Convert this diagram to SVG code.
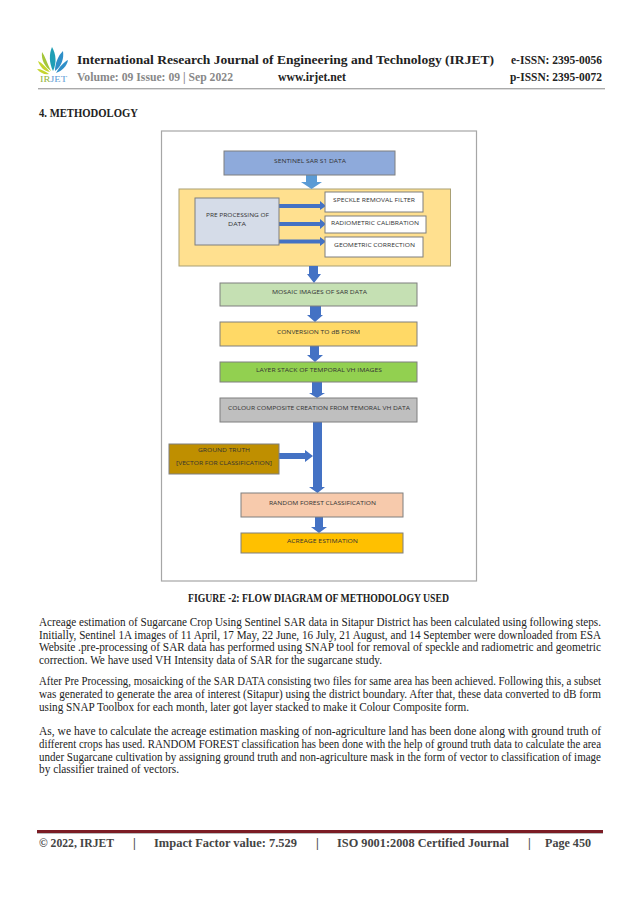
<svg xmlns="http://www.w3.org/2000/svg" width="638" height="902" viewBox="0 0 638 902">
<style>
.b{font-family:"Liberation Serif",serif;font-size:11.5px;fill:#222}
.h{font-family:"Liberation Serif",serif;font-weight:bold;fill:#222}
.f{font-family:"Liberation Serif",serif;font-weight:bold;font-size:12.5px;fill:#444}
.n{stroke:#7f7f7f;stroke-width:1}
.t{font-family:"Open Sans",sans-serif;font-size:6px;fill:#333}
.a{fill:#4472c4}
</style>
<rect width="638" height="902" fill="#fff"/>
<g id="header">
<g id="logo">
<path d="M53 71C49 63 49 54 52 47C56 54 57 63 53 71Z" fill="#1f9fb5"/>
<path d="M55 71C55 63 58 56 63 51C64 58 62 66 55 71Z" fill="#2f8fc8"/>
<path d="M56 73C60 66 64 62 68 60C67 66 62 71 56 73Z" fill="#2f8fc8"/>
<path d="M51 71C47 63 45 56 42 52C41 60 45 67 51 71Z" fill="#a4c639"/>
<path d="M50 72C46 67 42 63 38 61C40 67 44 71 50 72Z" fill="#c5d52e"/>
<path d="M49 74C45 71 41 69 37 69C40 73 45 75 49 74Z" fill="#c5d52e"/>
<text x="40" y="82" font-family="Liberation Serif,serif" font-size="9" fill="#5b9bd5" textLength="27" lengthAdjust="spacingAndGlyphs"><tspan fill="#8fb339">IR</tspan>JET</text>
</g>
<text class="h" x="77" y="64" font-size="13.500" textLength="417" lengthAdjust="spacingAndGlyphs">International Research Journal of Engineering and Technology (IRJET)</text>
<text class="h" x="511" y="64" font-size="11.500" textLength="91" lengthAdjust="spacingAndGlyphs">e-ISSN: 2395-0056</text>
<text class="h" x="77" y="81" font-size="11.500" style="fill:#888" textLength="156" lengthAdjust="spacingAndGlyphs">Volume: 09 Issue: 09 | Sep 2022</text>
<text class="h" x="278" y="81" font-size="11.500" textLength="68" lengthAdjust="spacingAndGlyphs">www.irjet.net</text>
<text class="h" x="510" y="81" font-size="11.500" textLength="92" lengthAdjust="spacingAndGlyphs">p-ISSN: 2395-0072</text>
<rect x="38" y="88" width="567" height="1.4" fill="#aaa"/>
<text class="h" x="39" y="117" font-size="11.500" textLength="99" lengthAdjust="spacingAndGlyphs">4. METHODOLOGY</text>
</g>
<rect id="frame" x="161.5" y="131" width="315" height="450" fill="#fff" stroke="#a6a6a6" stroke-width="1.2"/>
<rect id="preprocess-panel" class="n" x="179" y="189" width="271.500" height="77" fill="#ffe08f" style="stroke:#a9a074"/>
<g id="connectors">
<path style="fill:#5b9bd5" d="M306 175H317V182H322L311.500 189L301 182H306Z"/>
<path class="a" d="M279 204H320V201L326 206L320 210V208H279Z"/>
<path class="a" d="M279 222H320V219L326 224L320 229V226H279Z"/>
<path class="a" d="M279 239.500H320V237L326 241.500L320 246V243.500H279Z"/>
<path class="a" d="M309 266H318V274H321L314 283L307 274H309Z"/>
<path class="a" d="M310 306H321V315H323L315 322L307 315H310Z"/>
<path class="a" d="M310 346H319V355H323L315 362L307 355H310Z"/>
<path class="a" d="M312 382H322V393H325L317 398L309 393H312Z"/>
<path class="a" d="M313 422H322V487H325L317.500 493L309 487H313Z"/>
<path class="a" d="M279 453H305V450L313 456L305 462V459H279Z"/>
<path class="a" d="M315 517H323V527H327L319 533L311 527H315Z"/>
</g>
<g id="sentinel"><rect class="n" x="224" y="151" width="171" height="24" fill="#8eaadb"/><text class="t" x="274" y="163.200" textLength="72" lengthAdjust="spacingAndGlyphs">SENTINEL SAR S1 DATA</text></g>
<g id="preprocess"><rect class="n" x="195" y="198" width="84" height="47" fill="#d5dce8"/><text class="t" x="206" y="217.200" textLength="63" lengthAdjust="spacingAndGlyphs">PRE PROCESSING OF</text><text class="t" x="228" y="226" textLength="18" lengthAdjust="spacingAndGlyphs">DATA</text></g>
<g id="speckle"><rect class="n" x="325" y="192" width="98" height="20" fill="#fff"/><text class="t" x="333" y="202" textLength="82" lengthAdjust="spacingAndGlyphs">SPECKLE REMOVAL FILTER</text></g>
<g id="radiometric"><rect class="n" x="325" y="216" width="101" height="17" fill="#fff"/><text class="t" x="331" y="224.500" textLength="88" lengthAdjust="spacingAndGlyphs">RADIOMETRIC CALIBRATION</text></g>
<g id="geometric"><rect class="n" x="325" y="237" width="98" height="20" fill="#fff"/><text class="t" x="334" y="247.200" textLength="81" lengthAdjust="spacingAndGlyphs">GEOMETRIC CORRECTION</text></g>
<g id="mosaic"><rect class="n" x="220" y="283" width="197" height="23" fill="#c5e0b3"/><text class="t" x="272" y="294" textLength="95" lengthAdjust="spacingAndGlyphs">MOSAIC IMAGES OF SAR DATA</text></g>
<g id="conversion"><rect class="n" x="220" y="322" width="197" height="24" fill="#ffd966"/><text class="t" x="277" y="334" textLength="83" lengthAdjust="spacingAndGlyphs">CONVERSION TO dB FORM</text></g>
<g id="layer"><rect class="n" x="220" y="362" width="197" height="20" fill="#92d050"/><text class="t" x="256" y="372.200" textLength="126" lengthAdjust="spacingAndGlyphs">LAYER STACK OF TEMPORAL VH IMAGES</text></g>
<g id="colour"><rect class="n" x="220" y="398" width="197" height="24" fill="#bfbfbf"/><text class="t" x="228" y="410.200" textLength="182" lengthAdjust="spacingAndGlyphs">COLOUR COMPOSITE CREATION FROM TEMORAL VH DATA</text></g>
<g id="ground"><rect class="n" x="169" y="444" width="110" height="30" fill="#bf8f00"/><text class="t" x="198" y="452.200" textLength="52" lengthAdjust="spacingAndGlyphs">GROUND TRUTH</text><text class="t" x="176" y="464.700" textLength="96" lengthAdjust="spacingAndGlyphs">[VECTOR FOR CLASSIFICATION]</text></g>
<g id="forest"><rect class="n" x="241" y="493" width="162" height="24" fill="#f7caac"/><text class="t" x="269" y="504.700" textLength="107" lengthAdjust="spacingAndGlyphs">RANDOM FOREST CLASSIFICATION</text></g>
<g id="acreage"><rect class="n" x="241" y="533" width="162" height="20" fill="#ffc000"/><text class="t" x="287" y="542.700" textLength="71" lengthAdjust="spacingAndGlyphs">ACREAGE ESTIMATION</text></g>
<g id="body">
<text class="h" x="188" y="602" font-size="11.500" textLength="261" lengthAdjust="spacingAndGlyphs">FIGURE -2: FLOW DIAGRAM OF METHODOLOGY USED</text>
<text class="b" x="39" y="626" textLength="562" lengthAdjust="spacingAndGlyphs">Acreage estimation of Sugarcane Crop Using Sentinel SAR data in Sitapur District has been calculated using following steps.</text>
<text class="b" x="39" y="639" textLength="562" lengthAdjust="spacingAndGlyphs">Initially, Sentinel 1A images of 11 April, 17 May, 22 June, 16 July, 21 August, and 14 September were downloaded from ESA</text>
<text class="b" x="39" y="651" textLength="562" lengthAdjust="spacingAndGlyphs">Website .pre-processing of SAR data has performed using SNAP tool for removal of speckle and radiometric and geometric</text>
<text class="b" x="39" y="664" textLength="343" lengthAdjust="spacingAndGlyphs">correction. We have used VH Intensity data of SAR for the sugarcane study.</text>
<text class="b" x="39" y="685" textLength="562" lengthAdjust="spacingAndGlyphs">After Pre Processing, mosaicking of the SAR DATA consisting two files for same area has been achieved. Following this, a subset</text>
<text class="b" x="39" y="698" textLength="562" lengthAdjust="spacingAndGlyphs">was generated to generate the area of interest (Sitapur) using the district boundary. After that, these data converted to dB form</text>
<text class="b" x="39" y="711" textLength="430" lengthAdjust="spacingAndGlyphs">using SNAP Toolbox for each month, later got layer stacked to make it Colour Composite form.</text>
<text class="b" x="39" y="735" textLength="562" lengthAdjust="spacingAndGlyphs">As, we have to calculate the acreage estimation masking of non-agriculture land has been done along with ground truth of</text>
<text class="b" x="39" y="748" textLength="562" lengthAdjust="spacingAndGlyphs">different crops has used. RANDOM FOREST classification has been done with the help of ground truth data to calculate the area</text>
<text class="b" x="39" y="761" textLength="562" lengthAdjust="spacingAndGlyphs">under Sugarcane cultivation by assigning ground truth and non-agriculture mask in the form of vector to classification of image</text>
<text class="b" x="39" y="773" textLength="140" lengthAdjust="spacingAndGlyphs">by classifier trained of vectors.</text>
</g>
<g id="footer">
<rect x="37" y="830" width="566" height="3" fill="#7b1c24"/>
<rect x="37" y="833" width="566" height="1" fill="#bbb"/>
<text class="f" x="39" y="847" textLength="75" lengthAdjust="spacingAndGlyphs">© 2022, IRJET</text>
<text class="f" x="133" y="847">|</text>
<text class="f" x="154" y="847" textLength="143" lengthAdjust="spacingAndGlyphs">Impact Factor value: 7.529</text>
<text class="f" x="316" y="847">|</text>
<text class="f" x="337" y="847" textLength="172" lengthAdjust="spacingAndGlyphs">ISO 9001:2008 Certified Journal</text>
<text class="f" x="528" y="847">|</text>
<text class="f" x="545" y="847" textLength="46" lengthAdjust="spacingAndGlyphs">Page 450</text>
</g>
</svg>
